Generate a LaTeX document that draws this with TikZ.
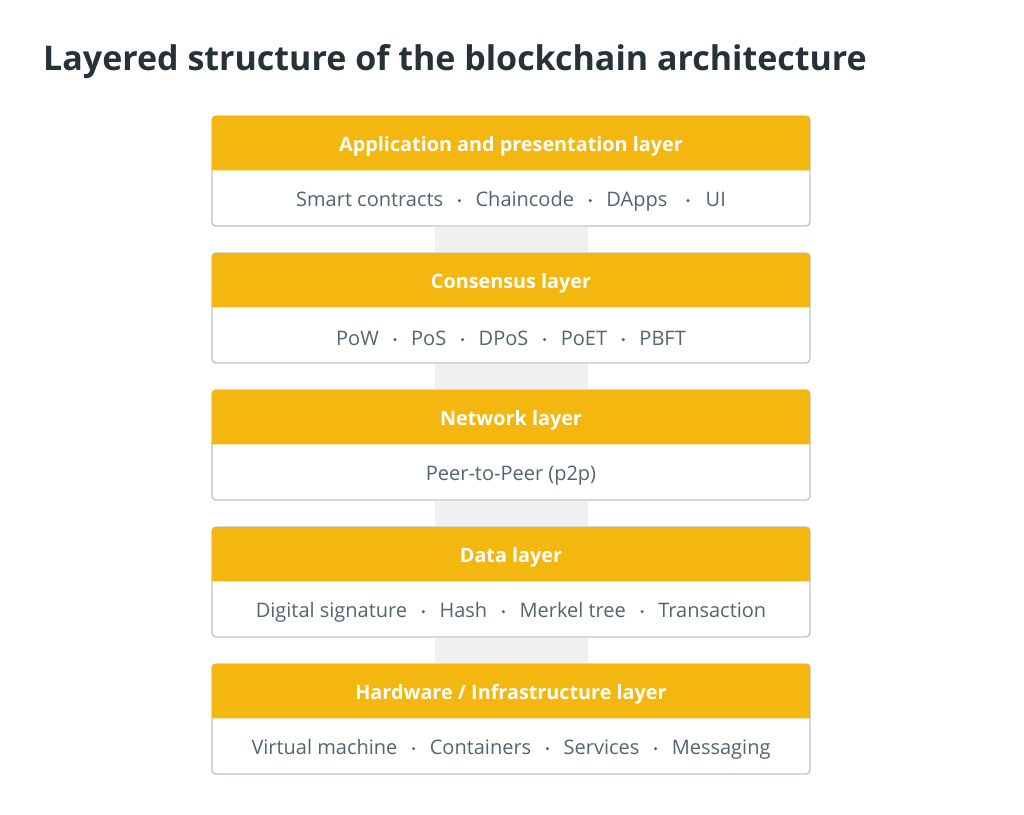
\documentclass[tikz,border=0pt]{standalone}
\usepackage{fontspec}
\setmainfont{Open Sans}
\definecolor{hdr}{HTML}{F4B70F}
\definecolor{bord}{HTML}{B9C5CC}
\definecolor{bodytxt}{HTML}{546570}
\definecolor{titletxt}{HTML}{263238}
\definecolor{stripc}{HTML}{EFF1F1}
\newcommand{\sepdot}{\hspace{14.5pt}\raisebox{4.5pt}{\tikz\fill[bodytxt] (0,0) circle (1.7pt);}\hspace{14.5pt}}
\newcommand{\sepwide}{\hspace{19pt}\raisebox{4.5pt}{\tikz\fill[bodytxt] (0,0) circle (1.7pt);}\hspace{16pt}}
\tikzset{
  layerbox/.style={draw=bord, line width=1.3pt, rounded corners=4pt, fill=white, minimum width=598pt, minimum height=110pt, inner sep=0pt},
  headtxt/.style={text=white, font=\fontsize{19.8}{24}\selectfont\bfseries, inner sep=0pt},
  bodytext/.style={text=bodytxt, font=\fontsize{20}{24}\selectfont, inner sep=0pt},
  stripfill/.style={fill=stripc},
  titlestyle/.style={text=titletxt, font=\fontsize{34}{40}\selectfont\bfseries, inner sep=0pt, anchor=base west}
}
\begin{document}
\begin{tikzpicture}[x=1pt,y=-1pt]
\useasboundingbox (0,0) rectangle (1024,814);
\fill[white] (0,0) rectangle (1024,814);
\node[titlestyle] (title) at (43,70) {Layered structure of the blockchain architecture};
% boxes
\foreach \i/\nm in {0/L1,1/L2,2/L3,3/L4,4/L5}{
  \pgfmathsetmacro{\t}{116+137*\i}
  \node[layerbox] (\nm) at (511,\t+55) {};
}
% strips
\fill[stripfill] ([xshift=-76pt]L1.south) rectangle ([xshift=77pt]L2.north);
\fill[stripfill] ([xshift=-76pt]L2.south) rectangle ([xshift=77pt]L3.north);
\fill[stripfill] ([xshift=-76pt]L3.south) rectangle ([xshift=77pt]L4.north);
\fill[stripfill] ([xshift=-76pt]L4.south) rectangle ([xshift=77pt]L5.north);
% headers
\foreach \nm in {L1,L2,L3,L4,L5}{
  \fill[hdr] ([xshift=0.65pt,yshift=-55pt]\nm.north west) {[rounded corners=3.4pt] -- ([xshift=0.65pt,yshift=-0.65pt]\nm.north west) -- ([xshift=-0.65pt,yshift=-0.65pt]\nm.north east)} -- ([xshift=-0.65pt,yshift=-55pt]\nm.north east) -- cycle;
}
\node[headtxt] (h1) at ([yshift=-31pt]L1.north) {Application and presentation layer};
\node[headtxt] (h2) at ([yshift=-31pt]L2.north) {Consensus layer};
\node[headtxt] (h3) at ([yshift=-31pt]L3.north) {Network layer};
\node[headtxt] (h4) at ([yshift=-31pt]L4.north) {Data layer};
\node[headtxt] (h5) at ([yshift=-31pt]L5.north) {Hardware / Infrastructure layer};
\node[bodytext] (b1) at ([yshift=25pt]L1.south) {Smart contracts\sepdot Chaincode\sepdot DApps\sepwide UI};
\node[bodytext] (b2) at ([yshift=25pt]L2.south) {PoW\sepdot PoS\sepdot DPoS\sepdot PoET\sepdot PBFT};
\node[bodytext] (b3) at ([yshift=25pt]L3.south) {Peer-to-Peer (p2p)};
\node[bodytext] (b4) at ([yshift=25pt]L4.south) {Digital signature\sepdot Hash\sepdot Merkel tree\sepdot Transaction};
\node[bodytext] (b5) at ([yshift=25pt]L5.south) {Virtual machine\sepdot Containers\sepdot Services\sepdot Messaging};
\end{tikzpicture}
\end{document}
